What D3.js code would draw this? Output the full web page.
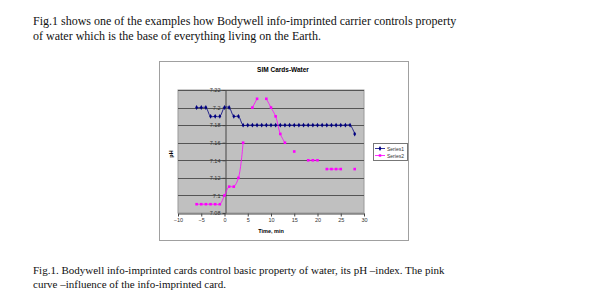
<!DOCTYPE html>
<html>
<head>
<meta charset="utf-8">
<script src="https://cdn.jsdelivr.net/npm/d3@7"></script>
<style>
	body { margin: 0; background: #fff; }
	svg { display: block; }
</style>
</head>
<body>
<div data-chart></div>
<script>
const dimensions = {
	width: 600,
	height: 307
}

// frame of the embedded Excel chart and its plot area
const frame = { left: 159, top: 61, right: 408, bottom: 240 }
const plot = { left: 178, top: 90, right: 364, bottom: 213 }

const captionTop = [
	'Fig.1 shows one of the examples how Bodywell info-imprinted carrier controls property',
	'of water which is the base of everything living on the Earth.'
]
const captionBottom = [
	'Fig.1. Bodywell info-imprinted cards control basic property of water, its pH \u2013index. The pink',
	'curve \u2013influence of the info-imprinted card.'
]

const chartTitle = 'SIM Cards-Water'
const xTitle = 'Time, min'
const yTitle = 'pH'
const seriesNames = ['Series1', 'Series2']

const xTicks = [-10, -5, 0, 5, 10, 15, 20, 25, 30]
const yTicks = [7.08, 7.1, 7.12, 7.14, 7.16, 7.18, 7.2, 7.22]

const time = [-6, -5, -4, -3, -2, -1, 0, 1, 2, 3, 4, 5, 6, 7, 8, 9, 10, 11, 12, 13, 14, 15, 16, 17, 18, 19, 20, 21, 22, 23, 24, 25, 26, 27, 28]

const series1 = [7.2, 7.2, 7.2, 7.19, 7.19, 7.19, 7.2, 7.2, 7.19, 7.19, 7.18, 7.18, 7.18, 7.18, 7.18, 7.18, 7.18, 7.18, 7.18, 7.18, 7.18, 7.18, 7.18, 7.18, 7.18, 7.18, 7.18, 7.18, 7.18, 7.18, 7.18, 7.18, 7.18, 7.18, 7.17]

const series2 = [7.09, 7.09, 7.09, 7.09, 7.09, 7.09, 7.1, 7.11, 7.11, 7.12, 7.16, null, 7.2, 7.21, null, 7.21, 7.2, 7.19, 7.17, 7.16, null, 7.15, null, null, 7.14, 7.14, 7.14, null, 7.13, 7.13, 7.13, 7.13, null, null, 7.13]

const colors = ['#000080', '#ff00ff']

const svg = d3.select('[data-chart]')
	.append('svg')
	.attr('width', dimensions.width)
	.attr('height', dimensions.height)
	.attr('viewBox', `0 0 ${dimensions.width} ${dimensions.height}`)

/* Captions */
const serif = '"Liberation Serif", "Times New Roman", serif'

const writeLines = (lines, x, y, step, size) => {
	svg.append('g')
		.selectAll('text')
		.data(lines)
		.join('text')
		.attr('x', x)
		.attr('y', (d, i) => y + i * step)
		.attr('font-family', serif)
		.attr('font-size', size)
		.attr('fill', '#111')
		.text(d => d)
}

writeLines(captionTop, 33, 25, 15, 12)
writeLines(captionBottom, 33, 274, 14, 11)

/* Chart frame */
svg.append('rect')
	.attr('x', frame.left + 0.5)
	.attr('y', frame.top + 0.5)
	.attr('width', frame.right - frame.left)
	.attr('height', frame.bottom - frame.top)
	.attr('fill', '#fff')
	.attr('stroke', '#a0a0a0')

const xScale = d3.scaleLinear()
	.domain([-10, 30])
	.range([plot.left, plot.right])

const yScale = d3.scaleLinear()
	.domain([7.08, 7.22])
	.range([plot.bottom, plot.top])

svg.append('rect')
	.attr('x', plot.left)
	.attr('y', plot.top)
	.attr('width', plot.right - plot.left)
	.attr('height', plot.bottom - plot.top)
	.attr('fill', '#c0c0c0')
	.attr('stroke', '#9a9a9a')

/* Gridlines */
svg.append('g')
	.selectAll('line')
	.data(yTicks.slice(1))
	.join('line')
	.attr('x1', plot.left)
	.attr('x2', plot.right)
	.attr('y1', d => Math.round(yScale(d)) + 0.5)
	.attr('y2', d => Math.round(yScale(d)) + 0.5)
	.attr('stroke', '#555')

/* Axes */
const sans = '"Liberation Sans", Arial, sans-serif'

const xAxis = svg.append('g')
	.attr('transform', `translate(0,${plot.bottom + 0.5})`)
	.call(d3.axisBottom(xScale).tickValues(xTicks).tickSize(3).tickSizeOuter(0).tickPadding(2))

const yAxis = svg.append('g')
	.attr('transform', `translate(${Math.round(xScale(0)) + 0.5},0)`)
	.call(d3.axisLeft(yScale).tickValues(yTicks).tickFormat(d3.format('')).tickSize(3).tickSizeOuter(0).tickPadding(2))

;[xAxis, yAxis].forEach(axis => {
	axis.selectAll('path, line').attr('stroke', '#444')
	axis.selectAll('text')
		.attr('font-family', sans)
		.attr('font-size', 5.5)
		.attr('fill', '#333')
})

/* Series */
const points1 = time.map((t, i) => ({ t, v: series1[i] }))
const points2 = time.map((t, i) => ({ t, v: series2[i] }))

const lineGenerator = d3.line()
	.defined(d => d.v != null)
	.x(d => xScale(d.t))
	.y(d => yScale(d.v))
	.curve(d3.curveCatmullRom.alpha(0.5))

svg.append('path')
	.datum(points1)
	.attr('d', lineGenerator)
	.attr('fill', 'none')
	.attr('stroke', colors[0])
	.attr('stroke-width', 0.8)

svg.append('path')
	.datum(points2)
	.attr('d', lineGenerator)
	.attr('fill', 'none')
	.attr('stroke', colors[1])
	.attr('stroke-width', 0.8)

const diamond = d3.symbol().type(d3.symbolDiamond).size(7)

svg.append('g')
	.selectAll('path')
	.data(points1)
	.join('path')
	.attr('transform', d => `translate(${xScale(d.t)},${yScale(d.v)})`)
	.attr('d', diamond)
	.attr('fill', colors[0])

svg.append('g')
	.selectAll('rect')
	.data(points2.filter(d => d.v != null))
	.join('rect')
	.attr('x', d => xScale(d.t) - 1.3)
	.attr('y', d => yScale(d.v) - 1.3)
	.attr('width', 2.6)
	.attr('height', 2.6)
	.attr('fill', colors[1])

/* Titles */
svg.append('text')
	.attr('x', 283)
	.attr('y', 72)
	.attr('text-anchor', 'middle')
	.attr('font-family', sans)
	.attr('font-size', 6.5)
	.attr('font-weight', 'bold')
	.text(chartTitle)

svg.append('text')
	.attr('x', (plot.left + plot.right) / 2)
	.attr('y', 233)
	.attr('text-anchor', 'middle')
	.attr('font-family', sans)
	.attr('font-size', 5.5)
	.attr('font-weight', 'bold')
	.text(xTitle)

svg.append('text')
	.attr('transform', 'translate(173,154) rotate(-90)')
	.attr('text-anchor', 'middle')
	.attr('font-family', sans)
	.attr('font-size', 5.5)
	.attr('font-weight', 'bold')
	.text(yTitle)

/* Legend */
const legend = svg.append('g')
	.attr('transform', 'translate(373,143)')

legend.append('rect')
	.attr('x', 0.5)
	.attr('y', 0.5)
	.attr('width', 34)
	.attr('height', 17)
	.attr('fill', '#fff')
	.attr('stroke', '#777')

const items = legend.selectAll('g')
	.data(seriesNames)
	.join('g')
	.attr('transform', (d, i) => `translate(2,${5.5 + i * 7})`)

items.append('line')
	.attr('x1', 0)
	.attr('x2', 10)
	.attr('stroke', (d, i) => colors[i])
	.attr('stroke-width', 0.8)

items.append('path')
	.attr('transform', 'translate(5,0)')
	.attr('d', (d, i) => i === 0 ? diamond() : d3.symbol().type(d3.symbolSquare).size(6)())
	.attr('fill', (d, i) => colors[i])

items.append('text')
	.attr('x', 12)
	.attr('y', 2)
	.attr('font-family', sans)
	.attr('font-size', 5)
	.attr('fill', '#333')
	.text(d => d)
</script>
</body>
</html>
